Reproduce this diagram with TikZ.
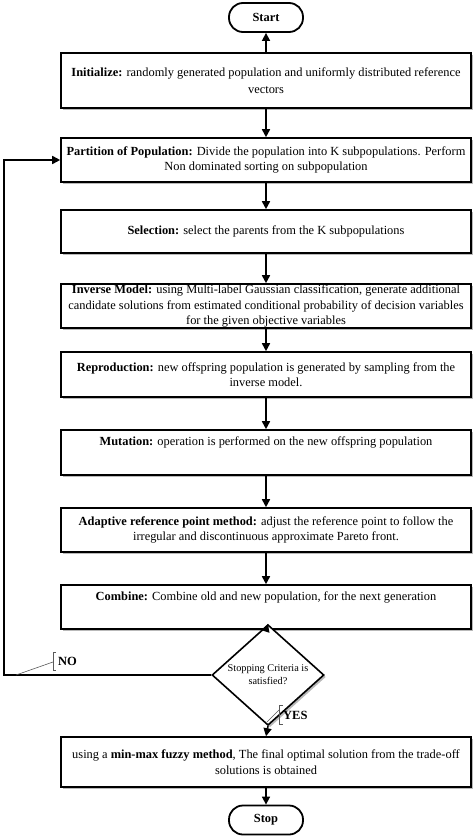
\documentclass[tikz,border=0pt]{standalone}
\usepackage{fontspec}
\setmainfont{Liberation Serif}
\usetikzlibrary{arrows.meta,shapes.geometric,shadows}
\begin{document}
\begin{tikzpicture}[x=1pt,y=-1pt,
  procbox/.style={draw, line width=1.6pt, rectangle, minimum width=410pt, align=center,
     inner sep=0pt, fill=white, font=\fontsize{12.4}{15.5}\selectfont,
     drop shadow={shadow xshift=2pt, shadow yshift=-2pt, fill=gray!55, opacity=1}},
  termbox/.style={draw, line width=1.8pt, rectangle, rounded corners=14pt, minimum width=74pt, minimum height=29pt,
     inner sep=0pt, font=\fontsize{12.4}{14}\selectfont\bfseries, fill=white},
  decbox/.style={draw, line width=1.6pt, diamond, minimum width=112pt, minimum height=66pt, inner sep=0pt,
     align=center, font=\fontsize{10.3}{13}\selectfont, fill=white,
     drop shadow={shadow xshift=2pt, shadow yshift=-2pt, fill=gray!55, opacity=1}},
  flow/.style={line width=1.6pt, -{Triangle[length=8pt,width=8pt]}},
  callout/.style={draw=gray!70!black, line width=0.6pt},
  lbl/.style={font=\fontsize{12.5}{14}\selectfont\bfseries, inner sep=0pt, anchor=west}
]
\useasboundingbox (0,0) rectangle (474,838);

\node[termbox] (start) at (266,17.5) {Start};
\node[procbox, minimum height=55pt, font=\fontsize{12.4}{17}\selectfont] (init) at (266,80.5) {\textbf{Initialize:} randomly generated population and uniformly distributed reference\\ vectors};
\node[procbox, minimum height=44pt] (part) at (266,160) {\textbf{Partition of Population:} Divide the population into K subpopulations. Perform\\ Non dominated sorting on subpopulation};
\node[procbox, minimum height=43pt] (sel) at (266,231.5) {\textbf{Selection:} select the parents from the K subpopulations};
\node[procbox, minimum height=44pt] (inv) at (266,306) {\textbf{Inverse Model:} using Multi-label Gaussian classification, generate additional\\ candidate solutions from estimated conditional probability of decision variables\\ for the given objective variables};
\node[procbox, minimum height=45pt] (rep) at (266,374.5) {\textbf{Reproduction:} new offspring population is generated by sampling from the\\ inverse model.};
\node[procbox, minimum height=45pt, font=\fontsize{12.4}{17}\selectfont] (mut) at (266,452.5) {\textbf{Mutation:} operation is performed on the new offspring population\\ \strut};
\node[procbox, minimum height=44pt] (adp) at (266,530) {\textbf{Adaptive reference point method:} adjust the reference point to follow the\\ irregular and discontinuous approximate Pareto front.};
\node[procbox, minimum height=44pt, font=\fontsize{12.4}{17}\selectfont] (comb) at (266,607) {\textbf{Combine:} Combine old and new population, for the next generation\\ \strut};
\node[decbox] (dec) at (268,675) {Stopping Criteria is\\ satisfied?};
\node[procbox, minimum height=50pt] (fin) at (266,762) {using a \textbf{min-max fuzzy method}, The final optimal solution from the trade-off\\ solutions is obtained};
\node[termbox] (stop) at (266,820) {Stop};

\draw[flow] (init.north) -- (start.south);
\draw[flow] (init.south) -- (part.north);
\draw[flow] (part.south) -- (sel.north);
\draw[flow] (sel.south) -- (inv.north);
\draw[flow] (inv.south) -- (rep.north);
\draw[flow] (rep.south) -- (mut.north);
\draw[flow] (mut.south) -- (adp.north);
\draw[flow] (adp.south) -- (comb.north);
\draw[flow] (comb.south) -- (dec.north);
\draw[flow] (dec.south) -- (fin.north);
\draw[flow] (fin.south) -- (stop.north);

\coordinate (loopA) at (4,675);
\coordinate (loopB) at (4,160);
\draw[flow] (dec.west) -- (loopA) -- (loopB) -- (part.west);

% NO annotation
\node[lbl] (no) at (58,661) {NO};
\draw[callout] (56,652) -- (53,652) -- (53,670) -- (56,670);
\draw[callout] (53,662) -- (16,675);

% YES annotation
\node[lbl] (yes) at (283,715) {YES};
\draw[callout] (283,705) -- (279,705) -- (279,724) -- (283,724);
\draw[callout] (279,710) -- (267,722);
\end{tikzpicture}
\end{document}
